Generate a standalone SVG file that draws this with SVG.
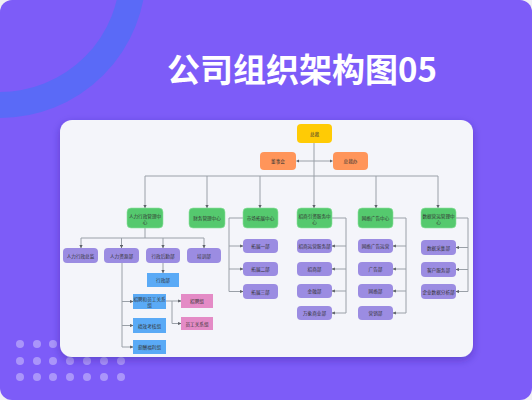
<svg xmlns="http://www.w3.org/2000/svg" width="532" height="400" viewBox="0 0 532 400">
<defs>
<style>
.t{font-family:"Noto Sans CJK SC","Noto Sans",sans-serif;font-size:4.6px;fill:#333;text-anchor:middle;dominant-baseline:central}
.g rect{fill:#55C96E;stroke:#8fe0a0;stroke-width:0.6}
.p rect{fill:#9B8CE2}
.b rect{fill:#5AAAF6}
.k rect{fill:#E48BC6}
.o rect{fill:#FF955A}
.y rect{fill:#FFCB05}
.c path{fill:none;stroke:#9AA0A8;stroke-width:1}
.dot{fill:#ffffff;fill-opacity:0.35}
</style>
<marker id="ar" viewBox="0 0 6 6" refX="5.5" refY="3" markerWidth="3.2" markerHeight="3.2" orient="auto" markerUnits="userSpaceOnUse">
<path d="M0,0 L6,3 L0,6 Z" fill="#5d6168"/>
</marker>
<clipPath id="bgclip"><rect x="0" y="0" width="532" height="400" rx="12"/></clipPath>
<filter id="sh" x="-10%" y="-10%" width="120%" height="130%">
<feDropShadow dx="0" dy="3" stdDeviation="4" flood-color="#2a1a80" flood-opacity="0.35"/>
</filter>
</defs>
<rect x="0" y="0" width="532" height="400" fill="#f0f0f4"/>
<g clip-path="url(#bgclip)">
<rect x="0" y="0" width="532" height="400" fill="#7D5CF8"/>
<circle cx="0" cy="-28" r="133" fill="none" stroke="#5A6AF7" stroke-width="26"/>
</g>
<g id="dots">
<circle class="dot" cx="20" cy="344" r="4"/><circle class="dot" cx="37" cy="344" r="4"/><circle class="dot" cx="53" cy="344" r="4"/>
<circle class="dot" cx="20" cy="361" r="4"/><circle class="dot" cx="37" cy="361" r="4"/><circle class="dot" cx="53" cy="361" r="4"/><circle class="dot" cx="70" cy="361" r="4"/><circle class="dot" cx="87" cy="361" r="4"/><circle class="dot" cx="104" cy="361" r="4"/><circle class="dot" cx="121" cy="361" r="4"/>
<circle class="dot" cx="20" cy="377" r="4"/><circle class="dot" cx="37" cy="377" r="4"/><circle class="dot" cx="53" cy="377" r="4"/><circle class="dot" cx="70" cy="377" r="4"/><circle class="dot" cx="87" cy="377" r="4"/><circle class="dot" cx="104" cy="377" r="4"/><circle class="dot" cx="121" cy="377" r="4"/>
</g>
<text x="302" y="82" font-family="'Noto Sans CJK SC','Noto Sans',sans-serif" font-size="33" font-weight="bold" fill="#ffffff" text-anchor="middle">公司组织架构图05</text>
<rect id="card" x="60" y="120" width="413" height="237" rx="12" fill="#F4F5FA" filter="url(#sh)"/>

<g id="connectors" class="c">
<path d="M314,143 V208" marker-end="url(#ar)"/>
<path d="M314,161 H296.5" marker-end="url(#ar)"/>
<path d="M314,161 H332.5" marker-end="url(#ar)"/>
<path d="M145,176 H438"/>
<path d="M145,176 V208" marker-end="url(#ar)"/>
<path d="M207,176 V208" marker-end="url(#ar)"/>
<path d="M260,176 V208" marker-end="url(#ar)"/>
<path d="M376,176 V208" marker-end="url(#ar)"/>
<path d="M438,176 V208" marker-end="url(#ar)"/>
<path d="M145,228 V238 M81,238 H204"/>
<path d="M81,238 V248" marker-end="url(#ar)"/>
<path d="M121.5,238 V248" marker-end="url(#ar)"/>
<path d="M163,238 V248" marker-end="url(#ar)"/>
<path d="M204,238 V248" marker-end="url(#ar)"/>
<path d="M163,263 V273" marker-end="url(#ar)"/>
<path d="M122,263 V347"/>
<path d="M122,301.5 H133" marker-end="url(#ar)"/>
<path d="M122,325.5 H133" marker-end="url(#ar)"/>
<path d="M122,347 H133" marker-end="url(#ar)"/>
<path d="M166,301 H181" marker-end="url(#ar)"/>
<path d="M172,301 V323.5 H181" marker-end="url(#ar)"/>
<path d="M243,218 H229 V291.5"/>
<path d="M229,246 H243" marker-end="url(#ar)"/>
<path d="M229,269 H243" marker-end="url(#ar)"/>
<path d="M229,291.5 H243" marker-end="url(#ar)"/>
<path d="M332,218 H346 V313"/>
<path d="M346,246 H332" marker-end="url(#ar)"/>
<path d="M346,269 H332" marker-end="url(#ar)"/>
<path d="M346,291 H332" marker-end="url(#ar)"/>
<path d="M346,313 H332" marker-end="url(#ar)"/>
<path d="M393,218 H406 V313"/>
<path d="M406,246 H393" marker-end="url(#ar)"/>
<path d="M406,269 H393" marker-end="url(#ar)"/>
<path d="M406,291 H393" marker-end="url(#ar)"/>
<path d="M406,313 H393" marker-end="url(#ar)"/>
<path d="M456,218 H468 V291.5"/>
<path d="M468,247.5 H456" marker-end="url(#ar)"/>
<path d="M468,269.5 H456" marker-end="url(#ar)"/>
<path d="M468,291.5 H456" marker-end="url(#ar)"/>
</g>

<g id="n-root" class="y"><rect x="297" y="124" width="35" height="19" rx="4"/><text class="t" x="314.5" y="133.5">总裁</text></g>
<g id="n-board" class="o"><rect x="260" y="152" width="36" height="18" rx="4"/><text class="t" x="278" y="161">董事会</text></g>
<g id="n-office" class="o"><rect x="333" y="152" width="35" height="18" rx="4"/><text class="t" x="350.5" y="161">总裁办</text></g>

<g id="n-hr" class="g"><rect x="127" y="208" width="36" height="20" rx="4"/><text class="t" x="145" y="215.5">人力行政管理中</text><text class="t" x="145" y="221.5">心</text></g>
<g id="n-fin" class="g"><rect x="189" y="208" width="36" height="20" rx="4"/><text class="t" x="207" y="218">财务管理中心</text></g>
<g id="n-mkt" class="g"><rect x="243" y="208" width="35" height="20" rx="4"/><text class="t" x="260.5" y="218">市场拓展中心</text></g>
<g id="n-inv" class="g"><rect x="297" y="208" width="35" height="20" rx="4"/><text class="t" x="314.5" y="215.5">招商引资服务中</text><text class="t" x="314.5" y="221.5">心</text></g>
<g id="n-ad" class="g"><rect x="358" y="208" width="35" height="20" rx="4"/><text class="t" x="375.5" y="218">网络广告中心</text></g>
<g id="n-data" class="g"><rect x="421" y="208" width="35" height="20" rx="4"/><text class="t" x="438.5" y="215.5">数据营运管理中</text><text class="t" x="438.5" y="221.5">心</text></g>

<g id="n-hr1" class="p"><rect x="63" y="248" width="35" height="15" rx="4"/><text class="t" x="80.5" y="255.5">人力行政总监</text></g>
<g id="n-hr2" class="p"><rect x="104" y="248" width="35" height="15" rx="4"/><text class="t" x="121.5" y="255.5">人力资源部</text></g>
<g id="n-hr3" class="p"><rect x="146" y="248" width="34" height="15" rx="4"/><text class="t" x="163" y="255.5">行政后勤部</text></g>
<g id="n-hr4" class="p"><rect x="187" y="248" width="34" height="15" rx="4"/><text class="t" x="204" y="255.5">培训部</text></g>

<g id="n-admin" class="b"><rect x="147" y="273" width="32" height="14"/><text class="t" x="163" y="280">行政部</text></g>
<g id="n-rec" class="b"><rect x="133" y="294" width="33" height="15"/><text class="t" x="149.5" y="298.8">招聘和员工关系</text><text class="t" x="149.5" y="304.5">组</text></g>
<g id="n-perf" class="b"><rect x="133" y="318" width="33" height="15"/><text class="t" x="149.5" y="325.5">绩效考核组</text></g>
<g id="n-pay" class="b"><rect x="133" y="340" width="33" height="14"/><text class="t" x="149.5" y="347">薪酬福利组</text></g>
<g id="n-rec1" class="k"><rect x="181" y="294" width="32" height="14"/><text class="t" x="197" y="301">招聘组</text></g>
<g id="n-rec2" class="k"><rect x="181" y="317" width="32" height="13"/><text class="t" x="197" y="323.5">员工关系组</text></g>

<g id="n-m1" class="p"><rect x="243" y="239" width="35" height="14" rx="4"/><text class="t" x="260.5" y="246">拓展一部</text></g>
<g id="n-m2" class="p"><rect x="243" y="262" width="35" height="14" rx="4"/><text class="t" x="260.5" y="269">拓展二部</text></g>
<g id="n-m3" class="p"><rect x="243" y="284" width="35" height="15" rx="4"/><text class="t" x="260.5" y="291.5">拓展三部</text></g>

<g id="n-i1" class="p"><rect x="297" y="239" width="35" height="14" rx="4"/><text class="t" x="314.5" y="246">招商运营服务部</text></g>
<g id="n-i2" class="p"><rect x="297" y="262" width="35" height="14" rx="4"/><text class="t" x="314.5" y="269">招商部</text></g>
<g id="n-i3" class="p"><rect x="297" y="284" width="35" height="14" rx="4"/><text class="t" x="314.5" y="291">金融部</text></g>
<g id="n-i4" class="p"><rect x="297" y="306" width="35" height="14" rx="4"/><text class="t" x="314.5" y="313">万象商业部</text></g>

<g id="n-a1" class="p"><rect x="358" y="239" width="35" height="14" rx="4"/><text class="t" x="375.5" y="246">网络广告运营</text></g>
<g id="n-a2" class="p"><rect x="358" y="262" width="35" height="14" rx="4"/><text class="t" x="375.5" y="269">广告部</text></g>
<g id="n-a3" class="p"><rect x="358" y="284" width="35" height="14" rx="4"/><text class="t" x="375.5" y="291">网络部</text></g>
<g id="n-a4" class="p"><rect x="358" y="306" width="35" height="14" rx="4"/><text class="t" x="375.5" y="313">营销部</text></g>

<g id="n-d1" class="p"><rect x="421" y="240" width="35" height="15" rx="4"/><text class="t" x="438.5" y="247.5">数据采集部</text></g>
<g id="n-d2" class="p"><rect x="421" y="262" width="35" height="15" rx="4"/><text class="t" x="438.5" y="269.5">客户服务部</text></g>
<g id="n-d3" class="p"><rect x="421" y="284" width="35" height="15" rx="4"/><text class="t" x="438.5" y="291.5">企业数据分析部</text></g>
</svg>
